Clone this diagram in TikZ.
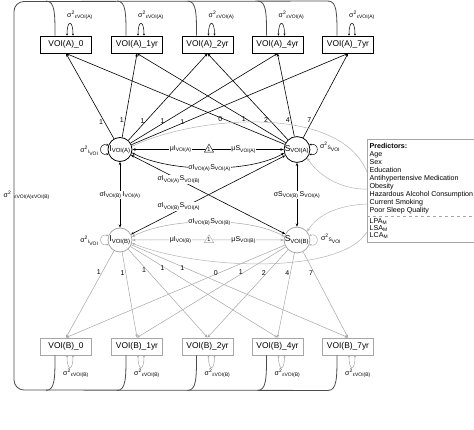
\documentclass[tikz,border=0pt]{standalone}
\usepackage{fontspec}
\setmainfont{Liberation Sans}
\usetikzlibrary{arrows.meta, shapes.geometric}

\newcommand{\vsq}[1]{σ\textsuperscript{2}\textsubscript{#1}}

\begin{document}
\begin{tikzpicture}[x=1pt, y=-1pt,
    >={Stealth[length=3.2pt, width=2.6pt]},
    obsA/.style={draw, line width=0.9pt, minimum width=51pt, minimum height=17pt, inner sep=0pt, font=\fontsize{8.4}{10}\selectfont},
    obsB/.style={obsA, draw=gray!70},
    latA/.style={draw, circle, line width=0.8pt, minimum size=24pt, inner sep=0pt, font=\fontsize{8.5}{10}\selectfont},
    latB/.style={latA, draw=gray!70},
    pathA/.style={->, line width=0.6pt},
    pathB/.style={->, line width=0.5pt, gray!70},
    covA/.style={<->, line width=0.6pt},
    covB/.style={<->, line width=0.5pt, gray!70},
    lbl/.style={font=\fontsize{7}{8}\selectfont, inner sep=0.5pt, text=black},
    lblw/.style={lbl, fill=white},
    loadlbl/.style={font=\fontsize{7}{8}\selectfont, inner sep=1pt, left=0pt, text=black},
    selfloop/.style={<->, line width=0.5pt, >={Stealth[length=2pt, width=2pt]}},
    frameline/.style={line width=0.8pt, black!70},
    predarrow/.style={->, line width=0.5pt, gray!60},
    predtxt/.style={font=\fontsize{7.1}{7.9}\selectfont, align=left, inner sep=0pt, anchor=north west},
    onebox/.style={draw, regular polygon, regular polygon sides=3, minimum size=10pt, inner sep=0pt, font=\fontsize{5.5}{6}\selectfont},
    ]

    % Page
    \useasboundingbox (0,0) rectangle (474,430);
    \clip (0,0) rectangle (474,430);

    \def\ytop{1.5}
    \def\ybot{390}
    \def\xleft{14}
    \def\yA{44.5}
    \def\yB{346.5}

    % Observed variables, A on top, B below
    \foreach \idx/\xc/\tlab in {1/66/0, 2/137/1yr, 3/207.5/2yr, 4/277.5/4yr, 5/348/7yr}{
        \node[obsA] (A\idx) at (\xc,\yA) {VOI(A)\_\tlab};
        \node[obsB] (B\idx) at (\xc,\yB) {VOI(B)\_\tlab};
    }

    % Residual variances and residual covariance
    \foreach \idx in {1,...,5}{
        \draw[selfloop] ([xshift=1]A\idx.north) .. controls +(0,-16) and +(0,-16) .. ([xshift=7]A\idx.north);
        \node[lbl] (eA\idx) at ([shift={(14,-20)}]A\idx.north) {\vsq{εVOI(A)}};
        \draw[selfloop, gray!70] ([xshift=1]B\idx.south) .. controls +(0,16) and +(0,16) .. ([xshift=7]B\idx.south);
        \node[lbl] (eB\idx) at ([shift={(10,18)}]B\idx.south) {\vsq{εVOI(B)}};
        \coordinate (tA\idx) at ([shift={(-20,-34.5)}]A\idx.north);
        \coordinate (tB\idx) at ([shift={(-20,35)}]B\idx.south);
        \draw[frameline] ([xshift=-11]A\idx.north) .. controls ([shift={(-11,-22)}]A\idx.north) and ([shift={(-11,-34.5)}]A\idx.north) .. (tA\idx);
        \draw[frameline] ([xshift=-11]B\idx.south) .. controls ([shift={(-11,22)}]B\idx.south) and ([shift={(-11,35)}]B\idx.south) .. (tB\idx);
    }
    \draw[frameline, rounded corners=10] (tA5) -- (\xleft,\ytop) -- (\xleft,\ybot) -- (tB5);
    \node[lbl, anchor=west] (eAB) at (3,195) {σ\textsuperscript{2}\hspace{3pt}\textsubscript{εVOI(A)εVOI(B)}};

    % Growth factors
    \node[latA] (IA) at (120,149.5) {I\textsubscript{VOI(A)}};
    \node[latA] (SA) at (297,149.5) {S\textsubscript{VOI(A)}};
    \node[latB] (IB) at (120,240) {I\textsubscript{VOI(B)}};
    \node[latB] (SB) at (297,240) {S\textsubscript{VOI(B)}};

    % Factor variances
    \draw[selfloop] (IA.160) .. controls +(-10,-3) and +(-10,3) .. (IA.200);
    \draw[selfloop] (SA.20) .. controls +(10,-3) and +(10,3) .. (SA.-20);
    \draw[selfloop, gray!70] (IB.160) .. controls +(-10,-3) and +(-10,3) .. (IB.200);
    \draw[selfloop, gray!70] (SB.20) .. controls +(10,-3) and +(10,3) .. (SB.-20);
    \node[lbl] (vIA) at ([shift={(-18,1)}]IA.west) {\vsq{I\textsubscript{VOI}}};
    \node[lbl] (vSA) at ([shift={(20,-3)}]SA.east) {\vsq{S\textsubscript{VOI}}};
    \node[lbl] (vIB) at ([shift={(-18,1)}]IB.west) {\vsq{I\textsubscript{VOI}}};
    \node[lbl] (vSB) at ([shift={(21,-1)}]SB.east) {\vsq{S\textsubscript{VOI}}};

    % Loadings
    \foreach \idx/\posI/\posS/\lval in {1/.2/.28/0, 2/.2/.26/1, 3/.22/.23/2, 4/.24/.2/4, 5/.25/.21/7}{
        \draw[pathA] (IA) -- node[loadlbl, pos=\posI] {1} (A\idx.south);
        \draw[pathA] (SA) -- node[loadlbl, pos=\posS] {\lval} (A\idx.south);
    }
    \foreach \idx/\posI/\posS/\lval in {1/.25/.3/0, 2/.24/.28/1, 3/.24/.26/2, 4/.24/.234/4, 5/.25/.245/7}{
        \draw[pathB] (IB) -- node[loadlbl, pos=\posI] {1} (B\idx.north);
        \draw[pathB] (SB) -- node[loadlbl, pos=\posS] {\lval} (B\idx.north);
    }

    % Means
    \node[onebox] (oneA) at (209,149.5) {1};
    \node[onebox, draw=gray!70] (oneB) at (209,240) {1};
    \draw[pathA] (oneA) -- node[lblw, pos=.34] (muIA) {μI\textsubscript{VOI(A)}} (IA);
    \draw[pathA] (oneA) -- node[lblw, pos=.44] (muSA) {μS\textsubscript{VOI(A)}} (SA);
    \draw[pathB] (oneB) -- node[lblw, pos=.34] (muIB) {μI\textsubscript{VOI(B)}} (IB);
    \draw[pathB] (oneB) -- node[lblw, pos=.44] (muSB) {μS\textsubscript{VOI(B)}} (SB);

    % Covariances
    \draw[covA] (IA.-15) .. controls (170,173) and (250,173) .. node[lblw] (cIASA) {σI\textsubscript{VOI(A)}S\textsubscript{VOI(A)}} (SA.-165);
    \draw[covB] (IB.15) .. controls (170,217) and (250,217) .. node[lblw] (cIBSB) {σI\textsubscript{VOI(B)}S\textsubscript{VOI(B)}} (SB.165);
    \draw[covA] (IA) -- node[lblw] (cIBIA) {σI\textsubscript{VOI(B)}\,I\textsubscript{VOI(A)}} (IB);
    \draw[covA] (SA) -- node[lblw] (cSBSA) {σS\textsubscript{VOI(B)}\,S\textsubscript{VOI(A)}} (SB);
    \draw[covA] (IA) -- node[lblw, pos=.31] (cIASB) {σI\textsubscript{VOI(A)}S\textsubscript{VOI(B)}} (SB);
    \draw[covA] (IB) -- node[lblw, pos=.31, above=-1pt] (cIBSA) {σI\textsubscript{VOI(B)}S\textsubscript{VOI(A)}} (SA);

    % Predictors
    \node[draw=gray!70, line width=0.6pt, minimum width=130pt, minimum height=103pt, anchor=north west] (pred) at (367,139) {};
    \node[predtxt] (predlist) at (369.5,143.5) {\textbf{Predictors:}\\Age\\Sex\\Education\\Antihypertensive Medication\\Obesity\\Hazardous Alcohol Consumption\\Current Smoking\\Poor Sleep Quality};
    \draw[dashed, gray!70, line width=0.6pt] ([shift={(0,77)}]pred.north west) -- ([shift={(0,77)}]pred.north east);
    \node[predtxt, font=\fontsize{7.1}{7.2}\selectfont] (predlat) at (369.5,218.5) {LPA\textsubscript{M}\\LSA\textsubscript{M}\\LCA\textsubscript{M}};

    \draw[predarrow] ([shift={(0,33)}]pred.north west) .. controls (340,105) and (200,115) .. (IA.15);
    \draw[predarrow] ([shift={(0,50)}]pred.north west) .. controls (345,190) and (320,178) .. (SA.-40);
    \draw[predarrow] ([shift={(0,65)}]pred.north west) .. controls (340,205) and (318,214) .. (SB.40);
    \draw[predarrow] ([shift={(0,93)}]pred.north west) .. controls (340,275) and (200,270) .. (IB.-15);

\end{tikzpicture}
\end{document}
